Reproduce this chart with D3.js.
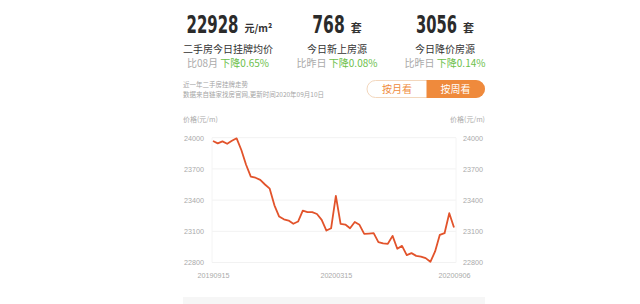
<!DOCTYPE html>
<html>

<head>
    <meta charset="UTF-8" />
    <title>weekly listing price</title>
    <style>
        body {
            margin: 0;
            padding: 0;
            background: #fff;
            font-family: 'Noto Sans CJK SC', 'Noto Sans', sans-serif;
        }

        svg {
            display: block;
        }
    </style>
</head>

<body>
    <div class="container"></div>

    <script src="https://cdnjs.cloudflare.com/ajax/libs/d3/7.8.5/d3.min.js"></script>
    <script>
        // header figures
        const statValues = ['22928', '768', '3056']
        const statUnits = ['元/m²', '套', '套']
        const statLabels = ['二手房今日挂牌均价', '今日新上房源', '今日降价房源']
        const compareLabels = ['比08月', '比昨日', '比昨日']
        const compareChanges = ['下降0.65%', '下降0.08%', '下降0.14%']

        // weekly series, 20190915 .. 20200906
        const startDate = '20190915'
        const prices = [
            23968, 23946, 23965, 23942, 23970, 23994, 23882, 23740, 23625, 23615,
            23595, 23550, 23510, 23350, 23242, 23215, 23203, 23172, 23194, 23299,
            23284, 23284, 23266, 23210, 23107, 23130, 23440, 23171, 23165, 23130,
            23190, 23162, 23075, 23078, 23082, 22996, 22983, 22980, 23056, 22932,
            22960, 22871, 22890, 22864, 22857, 22842, 22807, 22906, 23066, 23082,
            23274, 23136
        ]
        const yTicks = [22800, 23100, 23400, 23700, 24000]
        const xTickLabels = ['20190915', '20200315', '20200906']
        const toggleLabels = ['按月看', '按周看']

        const parse = d3.timeParse('%Y%m%d')
        const fmt = d3.timeFormat('%Y%m%d')
        const data = prices.map((v, i) => ({ date: d3.timeDay.offset(parse(startDate), i * 7), value: v }))

        const drawChart = () => {
            const width = 640, height = 304
            const svg = d3.select('.container').append('svg')
                .attr('width', width)
                .attr('height', height)

            // ---- header stats
            const colX = [228, 337, 445]
            const head = svg.append('g')
            statValues.forEach((v, i) => {
                const g = head.append('g')
                const t = g.append('text')
                    .attr('fill', '#2b2b2b')
                    .style('font-family', "'Liberation Sans Narrow', 'DejaVu Sans Condensed', 'Roboto', sans-serif")
                    .style('font-weight', 'bold')
                    .style('font-size', '25px')
                    .text(v)
                const natural = t.node().getComputedTextLength()
                const widths = [52, 32.5, 41]
                const numW = widths[i]
                const unitW = i === 0 ? 25 : 11
                const gap = 6
                const left = colX[i] - (numW + gap + unitW) / 2
                t.attr('transform', `translate(${left},33) scale(${numW / natural},1)`)
                g.append('text')
                    .attr('x', left + numW + gap)
                    .attr('y', 32)
                    .attr('fill', '#333')
                    .style('font-size', i === 0 ? '10px' : '11px')
                    .style('font-weight', 'bold')
                    .text(statUnits[i])

                g.append('text')
                    .attr('x', colX[i])
                    .attr('y', 53)
                    .attr('text-anchor', 'middle')
                    .attr('fill', '#333')
                    .style('font-size', '10px')
                    .text(statLabels[i])

                const c = g.append('text')
                    .attr('x', colX[i])
                    .attr('y', 67)
                    .attr('text-anchor', 'middle')
                    .style('font-size', '10px')
                c.append('tspan').attr('fill', '#aaa').text(compareLabels[i] + ' ')
                c.append('tspan').attr('fill', '#6cc04a').text(compareChanges[i])
            })

            // ---- sub title
            svg.append('text')
                .attr('x', 183).attr('y', 87)
                .attr('fill', '#a5a5a5')
                .style('font-size', '6.5px')
                .text('近一年二手房挂牌走势')
            svg.append('text')
                .attr('x', 183).attr('y', 97)
                .attr('fill', '#a5a5a5')
                .style('font-size', '6.5px')
                .attr('textLength', 141)
                .text('数据来自链家找房官网,更新时间2020年09月10日')

            // ---- toggle
            const tg = svg.append('g')
            tg.append('rect')
                .attr('x', 367).attr('y', 80.5)
                .attr('width', 117.5).attr('height', 17)
                .attr('rx', 8.5)
                .attr('fill', '#fff')
                .attr('stroke', '#f3d7bd')
            tg.append('path')
                .attr('d', 'M426.5,80 H476 A9,9 0 0 1 476,98 H426.5 Z')
                .attr('fill', '#ef8a3c')
            tg.selectAll('text.tog')
                .data(toggleLabels)
                .join('text')
                .attr('class', 'tog')
                .attr('x', (d, i) => i === 0 ? 397 : 455.5)
                .attr('y', 92.5)
                .attr('text-anchor', 'middle')
                .attr('fill', (d, i) => i === 0 ? '#ef8a3c' : '#fff')
                .style('font-size', '10px')
                .text(d => d)

            // ---- chart
            const x = d3.scaleTime()
                .domain(d3.extent(data, d => d.date))
                .range([213, 454])
            const y = d3.scaleLinear()
                .domain([22800, 24000])
                .range([262.5, 137.7])

            const grid = svg.append('g')
            grid.selectAll('line.h')
                .data(yTicks)
                .join('line')
                .attr('class', 'h')
                .attr('x1', 212).attr('x2', 456)
                .attr('y1', d => y(d)).attr('y2', d => y(d))
                .attr('stroke', '#f2f2f2')
            grid.selectAll('line.v')
                .data([212, 456])
                .join('line')
                .attr('class', 'v')
                .attr('x1', d => d).attr('x2', d => d)
                .attr('y1', y(24000)).attr('y2', y(22800))
                .attr('stroke', '#f4f4f4')

            const axisStyle = g => {
                g.select('.domain').remove()
                g.selectAll('.tick line').remove()
                g.selectAll('text')
                    .attr('fill', '#aaa')
                    .style('font-family', "'Liberation Sans', 'Noto Sans', sans-serif")
                    .style('font-size', '7.2px')
            }

            svg.append('g')
                .attr('transform', 'translate(184,0)')
                .call(d3.axisRight(y).tickValues(yTicks).tickFormat(d3.format('d')).tickSize(0).tickPadding(0))
                .call(axisStyle)
            svg.append('g')
                .attr('transform', 'translate(463,0)')
                .call(d3.axisRight(y).tickValues(yTicks).tickFormat(d3.format('d')).tickSize(0).tickPadding(0))
                .call(axisStyle)

            const xTicks = xTickLabels.map(parse)
            svg.append('g')
                .attr('transform', 'translate(0,273)')
                .call(d3.axisBottom(x).tickValues(xTicks).tickFormat(fmt).tickSize(0).tickPadding(0))
                .call(axisStyle)

            svg.append('text')
                .attr('x', 183).attr('y', 122)
                .attr('fill', '#aaa')
                .style('font-size', '7px')
                .text('价格(元/m)')
            svg.append('text')
                .attr('x', 485).attr('y', 122)
                .attr('text-anchor', 'end')
                .attr('fill', '#aaa')
                .style('font-size', '7px')
                .text('价格(元/m)')

            const line = d3.line()
                .x(d => x(d.date))
                .y(d => y(d.value))

            svg.append('path')
                .datum(data)
                .attr('d', line)
                .attr('fill', 'none')
                .attr('stroke', '#e2532b')
                .attr('stroke-width', 1.8)
                .attr('stroke-linejoin', 'round')

            // bottom strip
            svg.append('rect')
                .attr('x', 183).attr('y', 297)
                .attr('width', 302).attr('height', 7)
                .attr('fill', '#f6f6f6')
        }

        drawChart();
    </script>
</body>

</html>
